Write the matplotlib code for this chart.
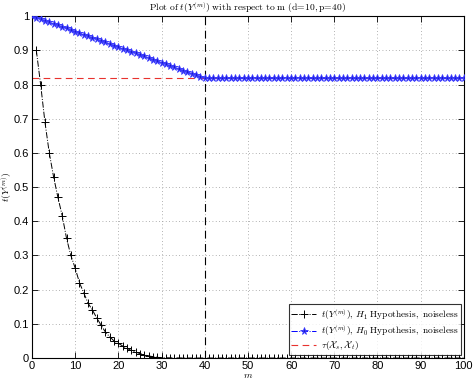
import matplotlib
matplotlib.use("Agg")
import matplotlib.pyplot as plt

plt.rcParams['mathtext.fontset'] = 'cm'
plt.rcParams['font.family'] = ['Liberation Sans', 'DejaVu Sans']

# H1 curve, m = 1..100
m_h1 = list(range(1, 101))
t_h1 = [0.90, 0.80, 0.69, 0.60, 0.53, 0.47, 0.416, 0.35, 0.30, 0.263,
        0.22, 0.19, 0.16, 0.14, 0.117, 0.096, 0.076, 0.062, 0.050, 0.043,
        0.035, 0.028, 0.022, 0.017, 0.013, 0.009, 0.006, 0.004, 0.002, 0.001,
        0.0007, 0.0005, 0.0003, 0.0002, 0.0001] + [0.0] * 65

# H0 curve, m = 0..100
m_h0 = list(range(0, 101))
t_h0 = [1.000, 0.995, 0.991, 0.986, 0.982, 0.977, 0.973, 0.968, 0.964, 0.959,
        0.955, 0.950, 0.945, 0.941, 0.936, 0.932, 0.927, 0.923, 0.918, 0.914,
        0.909, 0.904, 0.900, 0.895, 0.891, 0.886, 0.882, 0.877, 0.873, 0.868,
        0.864, 0.859, 0.854, 0.850, 0.845, 0.841, 0.836, 0.832, 0.827, 0.823,
        0.818] + [0.818] * 60

tau = 0.818
m_break = 40

x_ticks = [0, 10, 20, 30, 40, 50, 60, 70, 80, 90, 100]
y_ticks = [0, 0.1, 0.2, 0.3, 0.4, 0.5, 0.6, 0.7, 0.8, 0.9, 1]
y_tick_labels = ['0', '0.1', '0.2', '0.3', '0.4', '0.5', '0.6', '0.7', '0.8', '0.9', '1']

fig = plt.figure(figsize=(4.74, 3.79), dpi=100)
ax = fig.add_axes([0.0675, 0.0554, 0.911, 0.902])

ax.plot(m_h1, t_h1, color='black', linestyle='-.', linewidth=0.7,
        marker='+', markersize=6, markeredgewidth=0.7,
        label=r'$t(Y^{(m)}),\, H_1\ \mathrm{Hypothesis,\ noiseless}$', zorder=3)
ax.plot(m_h0, t_h0, color='blue', linestyle='-.', linewidth=0.7,
        marker='*', markersize=5.5, markeredgewidth=0.6, markerfacecolor='#1a1acc',
        markeredgecolor='#3a3aff',
        label=r'$t(Y^{(m)}),\, H_0\ \mathrm{Hypothesis,\ noiseless}$', zorder=4)
ax.axhline(tau, color='#e8322e', linestyle=(0, (6, 4)), linewidth=0.8,
           label=r'$\tau(\mathcal{X}_s,\mathcal{X}_t)$', zorder=2)
ax.plot([m_break, m_break], [0, 1], color='black', linestyle=(0, (7, 5)),
        linewidth=0.8, zorder=2)

ax.set_xlim(0, 100)
ax.set_ylim(0, 1)
ax.set_xticks(x_ticks)
ax.set_yticks(y_ticks)
ax.set_yticklabels(y_tick_labels)
ax.tick_params(direction='in', top=True, right=True, labelsize=8, length=4, width=0.6, pad=2)
ax.grid(True, linestyle=(0, (1, 3)), color='#999999', linewidth=0.6)
for s in ax.spines.values():
    s.set_linewidth(0.8)

ax.set_title(r'$\mathrm{Plot\ of\ }t(Y^{(m)})\mathrm{\ with\ respect\ to\ m\ (d\!=\!10,p\!=\!40)}$',
             fontsize=6.9, pad=4)
ax.set_xlabel(r'$m$', fontsize=7)
ax.set_ylabel(r'$t(Y^{(m)})$', fontsize=7)
ax.xaxis.set_label_coords(0.5, -0.034)
ax.yaxis.set_label_coords(-0.041, 0.5)

leg = ax.legend(loc='lower right', fontsize=6.8, frameon=True, fancybox=False,
                borderaxespad=0.3, handlelength=2.6, labelspacing=0.15,
                borderpad=0.3, handletextpad=0.5)
leg.get_frame().set_edgecolor('black')
leg.get_frame().set_linewidth(0.8)

fig.savefig('out.png', dpi=100)
